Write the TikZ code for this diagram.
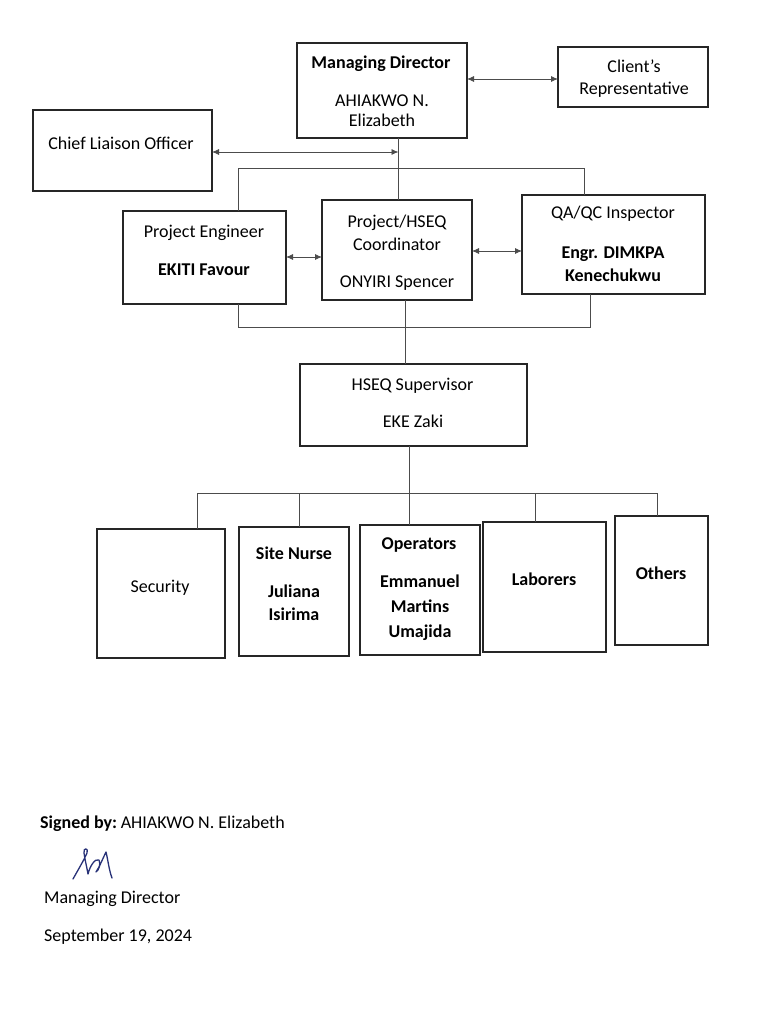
\documentclass[tikz,border=0pt]{standalone}
\usepackage{fontspec}
\setmainfont{Carlito}
\usetikzlibrary{arrows.meta}
\definecolor{inkblue}{RGB}{40,50,120}
\begin{document}
\begin{tikzpicture}[x=1pt,y=-1pt,
  box/.style={draw=black!85,line width=1.4pt,inner sep=0pt,outer sep=0pt},
  lbl/.style={font=\fontsize{18}{21}\selectfont,inner sep=0pt,anchor=mid},
  conn/.style={draw=black!70,line width=0.8pt},
  biarrow/.style={conn,{Latex[length=7pt,width=6pt]}-{Latex[length=7pt,width=6pt]}},
  sig/.style={font=\fontsize{18}{21}\selectfont,inner sep=0pt,anchor=base west}
]
\fill[white] (0,0) rectangle (768,1024);
\useasboundingbox (0,0) rectangle (768,1024);

% boxes
\node[box,minimum width=170pt,minimum height=95pt] (md) at (382,90.5) {};
\node[box,minimum width=150pt,minimum height=60pt] (cr) at (633,77) {};
\node[box,minimum width=179pt,minimum height=81pt] (clo) at (122.5,150.5) {};
\node[box,minimum width=163pt,minimum height=93pt] (pe) at (204.5,257.5) {};
\node[box,minimum width=150pt,minimum height=100pt] (pc) at (397,250) {};
\node[box,minimum width=183pt,minimum height=99pt] (qa) at (613.5,244.5) {};
\node[box,minimum width=227pt,minimum height=82pt] (hs) at (413.5,405) {};
\node[box,minimum width=128pt,minimum height=129pt] (sec) at (161,593.5) {};
\node[box,minimum width=110pt,minimum height=129pt] (sn) at (294,591.5) {};
\node[box,minimum width=120pt,minimum height=130pt] (op) at (420,590) {};
\node[box,minimum width=123pt,minimum height=130pt] (lab) at (544.5,587) {};
\node[box,minimum width=93pt,minimum height=129pt] (oth) at (661.5,580.5) {};

% texts
\node[lbl] (mdt1) at (381,66) {\textbf{Managing Director}};
\node[lbl] (mdt2) at (382,104) {AHIAKWO N.};
\node[lbl] (mdt3) at (382,124) {Elizabeth};
\node[lbl] (crt1) at (634,70) {Client’s};
\node[lbl] (crt2) at (634,92) {Representative};
\node[lbl] (clot) at (121,147) {Chief Liaison Officer};
\node[lbl] (pet1) at (204,235) {Project Engineer};
\node[lbl] (pet2) at (204,273) {\textbf{EKITI Favour}};
\node[lbl] (pct1) at (397,225) {Project/HSEQ};
\node[lbl] (pct2) at (397,248) {Coordinator};
\node[lbl] (pct3) at (397,285) {ONYIRI Spencer};
\node[lbl] (qat1) at (613,216) {QA/QC Inspector};
\node[lbl] (qat2) at (613,256) {\textbf{Engr. DIMKPA}};
\node[lbl] (qat3) at (613,279) {\textbf{Kenechukwu}};
\node[lbl] (hst1) at (412.5,388) {HSEQ Supervisor};
\node[lbl] (hst2) at (413,425) {EKE Zaki};
\node[lbl] (sect) at (160,590) {Security};
\node[lbl] (snt1) at (294,557) {\textbf{Site Nurse}};
\node[lbl] (snt2) at (294,595) {\textbf{Juliana}};
\node[lbl] (snt3) at (294,618) {\textbf{Isirima}};
\node[lbl] (opt1) at (419,547) {\textbf{Operators}};
\node[lbl] (opt2) at (420,585) {\textbf{Emmanuel}};
\node[lbl] (opt3) at (420,610) {\textbf{Martins}};
\node[lbl] (opt4) at (420,635) {\textbf{Umajida}};
\node[lbl] (labt) at (544,583) {\textbf{Laborers}};
\node[lbl] (otht) at (661,577) {\textbf{Others}};

% connectors
\draw[biarrow] (md.east |- 0,79) -- (cr.west |- 0,79);
\coordinate (mds) at ([xshift=16.5pt]md.south);
\draw[conn] (mds) -- (mds |- pc.north);
\draw[biarrow] (clo.east |- 0,152) -- (mds |- 0,152);
\coordinate (pet) at ([xshift=33.5pt]pe.north);
\coordinate (qat) at ([xshift=-29.5pt]qa.north);
\coordinate (topbar) at (400,168);
\draw[conn] (pet) -- (pet |- topbar) -- (qat |- topbar) -- (qat);
\draw[biarrow] (pe.east |- 0,257) -- (pc.west |- 0,257);
\draw[biarrow] (pc.east |- 0,251) -- (qa.west |- 0,251);
\coordinate (peb) at ([xshift=34pt]pe.south);
\coordinate (qab) at ([xshift=-23.5pt]qa.south);
\coordinate (botbar) at (400,327);
\draw[conn] (peb) -- (peb |- botbar) -- (qab |- botbar) -- (qab);
\coordinate (pcb) at ([xshift=8pt]pc.south);
\draw[conn] (pcb) -- (pcb |- hs.north);
\coordinate (hsb) at ([xshift=-4pt]hs.south);
\draw[conn] (hsb) -- (hsb |- op.north);
\coordinate (lowbar) at (400,493);
\coordinate (secT) at ([xshift=36pt]sec.north);
\coordinate (snT) at ([xshift=5pt]sn.north);
\coordinate (labT) at ([xshift=-9.5pt]lab.north);
\coordinate (othT) at ([xshift=-4.5pt]oth.north);
\draw[conn] (secT) -- (secT |- lowbar) -- (othT |- lowbar) -- (othT);
\draw[conn] (snT) -- (snT |- lowbar);
\draw[conn] (labT) -- (labT |- lowbar);

% signature block
\node[sig] (signed) at (40,828) {\textbf{Signed by:}\hspace{0.2em}AHIAKWO N. Elizabeth};
\draw[inkblue,line width=1.3pt,line cap=round,line join=round]
  (73,879) .. controls (78,870) and (84,860) .. (87,853)
  .. controls (89,848) and (83,847) .. (84,853)
  .. controls (85,860) and (87,868) .. (88,874)
  .. controls (90,866) and (95,858) .. (99,860)
  .. controls (101,864) and (99,870) .. (96,872)
  .. controls (100,866) and (103,858) .. (106,852)
  .. controls (108,860) and (109,870) .. (112,878);
\node[sig] (role) at (44,903) {Managing Director};
\node[sig] (date) at (44,941) {September 19, 2024};
\end{tikzpicture}
\end{document}
